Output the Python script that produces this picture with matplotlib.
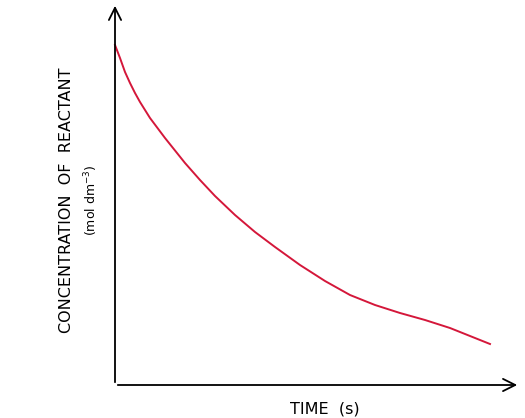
import matplotlib
matplotlib.use("Agg")
import matplotlib.pyplot as plt

# values (arbitrary units)
time = [0, 5, 10, 15, 20, 25, 35, 50, 70, 85, 100, 120, 140, 160, 185, 210,
        235, 260, 285, 310, 335, 355, 375]
conc = [340, 327, 313, 302, 292, 283, 267, 247, 222, 205, 189, 170, 153, 138, 120, 104,
        90, 80, 72, 65, 57, 49, 41]

fig = plt.figure(figsize=(5.25, 4.18), dpi=100)
ax = fig.add_axes([0, 0, 1, 1])
ax.set_xlim(-115, 410)
ax.set_ylim(-33, 385)
ax.axis("off")

ax.plot(time, conc, color="#d4173a", lw=1.4)

arrow = dict(arrowstyle="->", color="black", lw=1.3, mutation_scale=22)
ax.annotate("", xy=(0, 382), xytext=(0, 0), arrowprops=arrow)
ax.annotate("", xy=(405, 0), xytext=(0, 0), arrowprops=arrow)

ax.text(210, -24, "TIME  (s)", ha="center", va="center", fontsize=11.5)
ax.text(-48, 185, "CONCENTRATION  OF  REACTANT", rotation=90,
        ha="center", va="center", fontsize=11.5)
ax.text(-24, 185, "(mol dm$^{-3}$)", rotation=90, ha="center", va="center", fontsize=9)

fig.savefig("out.png", dpi=100)
